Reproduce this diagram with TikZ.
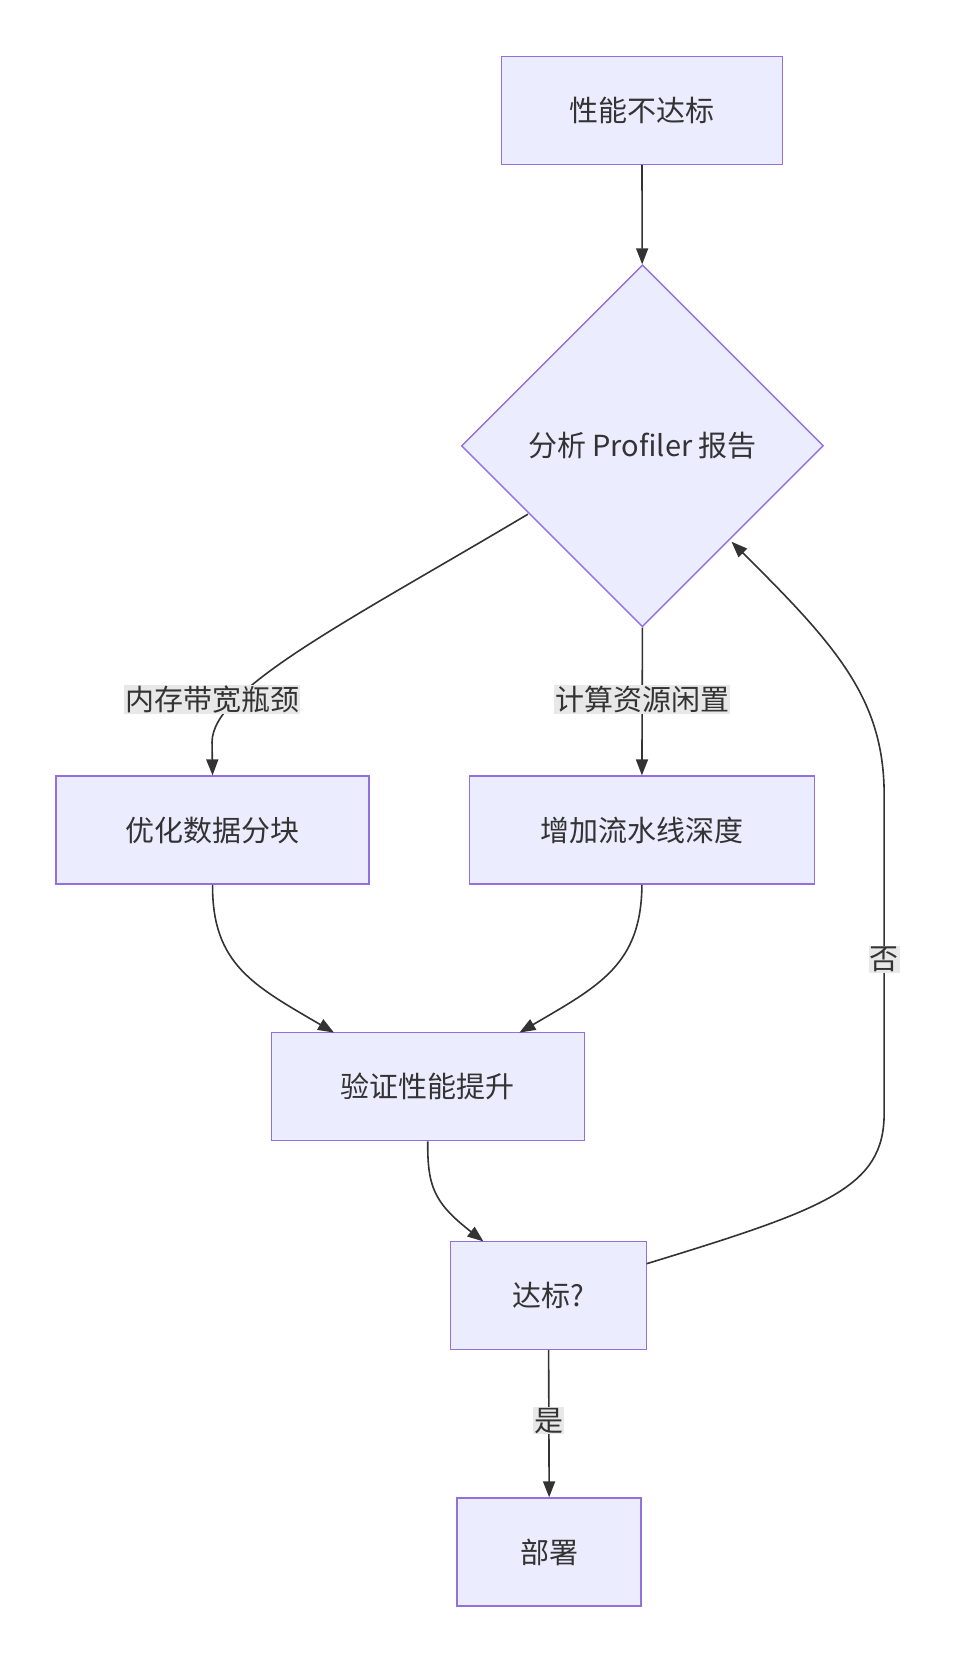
\documentclass[tikz,border=0pt]{standalone}
\usepackage{fontspec}
\setmainfont{Noto Sans CJK SC}
\usetikzlibrary{shapes.geometric,arrows.meta}
\definecolor{nfill}{HTML}{ECECFF}
\definecolor{nline}{HTML}{9370DB}
\definecolor{eline}{HTML}{333333}
\definecolor{lbg}{HTML}{E8E8E8}
\begin{document}
\begin{tikzpicture}[x=1.06pt,y=-1.06pt,
  box/.style={draw=nline,fill=nfill,line width=1.4pt,minimum height=108pt,inner sep=0pt,font=\fontsize{29}{32}\selectfont,text=eline},
  dia/.style={draw=nline,fill=nfill,line width=1.4pt,diamond,aspect=1,minimum width=362pt,minimum height=362pt,inner sep=0pt,font=\fontsize{29}{32}\selectfont,text=eline},
  edge/.style={draw=eline,line width=1.6pt,-{Triangle[length=16pt,width=12pt]}},
  lab/.style={fill=lbg,inner sep=1pt,font=\fontsize{29}{32}\selectfont,text=eline}]
\useasboundingbox (0,0) rectangle (900,1563);
\node[box,minimum width=281pt] (A) at (605.5,104) {性能不达标};
\node[dia] (B) at (606,420.5) {分析 Profiler 报告};
\node[box,minimum width=313pt] (C) at (200.5,783) {优化数据分块};
\node[box,minimum width=345pt] (D) at (605.5,783) {增加流水线深度};
\node[box,minimum width=313pt] (E) at (403.5,1025) {验证性能提升};
\node[box,minimum width=196pt] (F) at (517.5,1222) {达标?};
\node[box,minimum width=184pt] (G) at (518,1464) {部署};
\coordinate (fb1) at (610,1192);
\coordinate (fb2) at (690,511);
\draw[edge] (A) -- (B);
\draw[edge] (498,485) .. controls (330,585) and (200,650) .. (200,700) -- (C.north);
\node[lab] at (200,660) {内存带宽瓶颈};
\draw[edge] (B.south) -- (D.north);
\node[lab] at (606,660) {计算资源闲置};
\draw[edge] (C.south) .. controls (200,910) and (240,930) .. (315,974);
\draw[edge] (D.south) .. controls (605,910) and (565,930) .. (490,974);
\draw[edge] (E.south) .. controls (403,1120) and (410,1135) .. (456,1171);
\draw[edge] (fb1) .. controls (780,1140) and (834,1120) .. (834,1050) -- (834,750) .. controls (834,660) and (790,610) .. (fb2);
\node[lab] at (834,905) {否};
\draw[edge] (F.south) -- (G.north);
\node[lab] at (517.5,1340) {是};
\end{tikzpicture}
\end{document}
